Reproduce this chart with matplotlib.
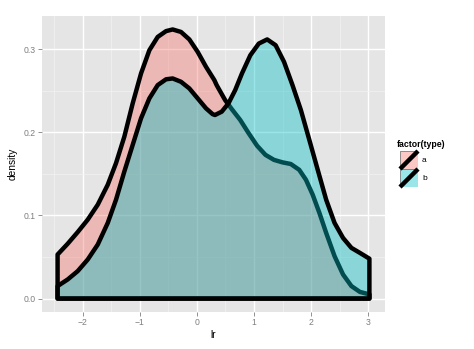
import numpy as np
import matplotlib
matplotlib.use("Agg")
import matplotlib.pyplot as plt
from matplotlib.patches import Rectangle
from matplotlib.lines import Line2D

## -----------------------------------------------
# data
## -----------------------------------------------
a_x = [-2.44, -2.263, -2.088, -1.912, -1.737, -1.562, -1.417, -1.271, -1.125, -0.979,
       -0.833, -0.687, -0.541, -0.425, -0.279, -0.133, 0.013, 0.159, 0.305, 0.345,
       0.493, 0.611, 0.758, 0.906, 1.053, 1.2, 1.348, 1.496, 1.643, 1.791,
       1.909, 2.027, 2.145, 2.263, 2.41, 2.558, 2.705, 2.853, 3.02]
a_y = [0.053, 0.066, 0.080, 0.095, 0.113, 0.137, 0.163, 0.195, 0.235, 0.271,
       0.299, 0.315, 0.322, 0.324, 0.321, 0.312, 0.297, 0.279, 0.263, 0.257,
       0.239, 0.228, 0.215, 0.199, 0.184, 0.173, 0.167, 0.164, 0.162, 0.155,
       0.143, 0.125, 0.103, 0.079, 0.051, 0.029, 0.015, 0.008, 0.005]

b_x = [-2.44, -2.263, -2.088, -1.912, -1.737, -1.562, -1.417, -1.271, -1.125, -0.979,
       -0.833, -0.687, -0.541, -0.425, -0.279, -0.133, 0.013, 0.159, 0.275, 0.316,
       0.434, 0.552, 0.670, 0.788, 0.935, 1.083, 1.230, 1.378, 1.525, 1.673,
       1.82, 1.968, 2.115, 2.263, 2.41, 2.558, 2.705, 2.853, 3.02]
b_y = [0.015, 0.023, 0.033, 0.047, 0.065, 0.091, 0.119, 0.153, 0.185, 0.217,
       0.241, 0.257, 0.264, 0.265, 0.261, 0.253, 0.241, 0.229, 0.222, 0.221,
       0.225, 0.235, 0.251, 0.271, 0.293, 0.307, 0.312, 0.305, 0.285, 0.257,
       0.227, 0.191, 0.155, 0.119, 0.091, 0.073, 0.061, 0.055, 0.048]

groups = ["a", "b"]
colors = ["#F8766D", "#00BFC4"]
x_ticks = [-2, -1, 0, 1, 2, 3]
y_ticks = [0.0, 0.1, 0.2, 0.3]
y_labels = ["0.0", "0.1", "0.2", "0.3"]

## -----------------------------------------------
# figure
## -----------------------------------------------
plt.rcParams['font.family'] = ['Liberation Sans', 'DejaVu Sans']
W, H = 474, 349
fig = plt.figure(figsize=(W / 100, H / 100), dpi=100)
ax = fig.add_axes([42 / W, (H - 312) / H, 343 / W, 296 / H])
ax.set_facecolor("#E5E5E5")

xmin, xmax = -2.44, 3.02
pad = 0.05 * (xmax - xmin)
ax.set_xlim(xmin - pad, xmax + pad)
ax.set_ylim(-0.05 * 0.324, 0.324 * 1.05)

# grid
ax.set_xticks(x_ticks)
ax.set_yticks(y_ticks)
ax.set_yticklabels(y_labels)
ax.set_xticks([-2.5, -1.5, -0.5, 0.5, 1.5, 2.5], minor=True)
ax.set_yticks([0.05, 0.15, 0.25], minor=True)
ax.grid(which="major", color="white", linewidth=1.0)
ax.grid(which="minor", color="#F2F2F2", linewidth=0.5)
ax.set_axisbelow(True)
for s in ax.spines.values():
    s.set_visible(False)

ax.tick_params(which="major", length=3, width=0.6, color="#7F7F7F",
               labelcolor="#7F7F7F", labelsize=6.2, pad=1.5)
ax.tick_params(which="minor", length=0)

# densities: a first, then b on top (b's fill tints a's outline)
for xs, ys, c in [(a_x, a_y, colors[0]), (b_x, b_y, colors[1])]:
    px = [xs[0]] + list(xs) + [xs[-1]]
    py = [0] + list(ys) + [0]
    ax.fill(px, py, facecolor=c, alpha=0.4, edgecolor="none")
    ax.fill(px, py, facecolor="none", edgecolor="black", linewidth=3.2,
            joinstyle="round")

ax.set_xlabel("lr", fontsize=7.3, labelpad=2)
ax.set_ylabel("density", fontsize=7.3, labelpad=4)

## -----------------------------------------------
# legend (drawn by hand, ggplot style)
## -----------------------------------------------
fig.text(397 / W, 1 - 144 / H, "factor(type)", fontsize=6.3, fontweight="bold",
         va="center", ha="left")
lax = fig.add_axes([400 / W, 1 - 187 / H, 18 / W, 36 / H])
lax.set_xlim(0, 1)
lax.set_ylim(0, 2)
lax.axis("off")
for i, (g, c) in enumerate(zip(groups, colors)):
    y0 = 1 - i
    lax.add_patch(Rectangle((0, y0), 1, 1, facecolor=c, alpha=0.4, edgecolor="none"))
    lax.add_patch(Rectangle((0, y0), 1, 1, facecolor="none", edgecolor="#7F7F7F",
                            linewidth=0.6))
    lax.add_line(Line2D([0, 1], [y0, y0 + 1], color="black", linewidth=3.2,
                        solid_capstyle="butt", clip_on=False))
    fig.text(422 / W, 1 - (160 + 19 * i) / H, g, fontsize=6, va="center", ha="left")

fig.savefig("out.png", dpi=100)
